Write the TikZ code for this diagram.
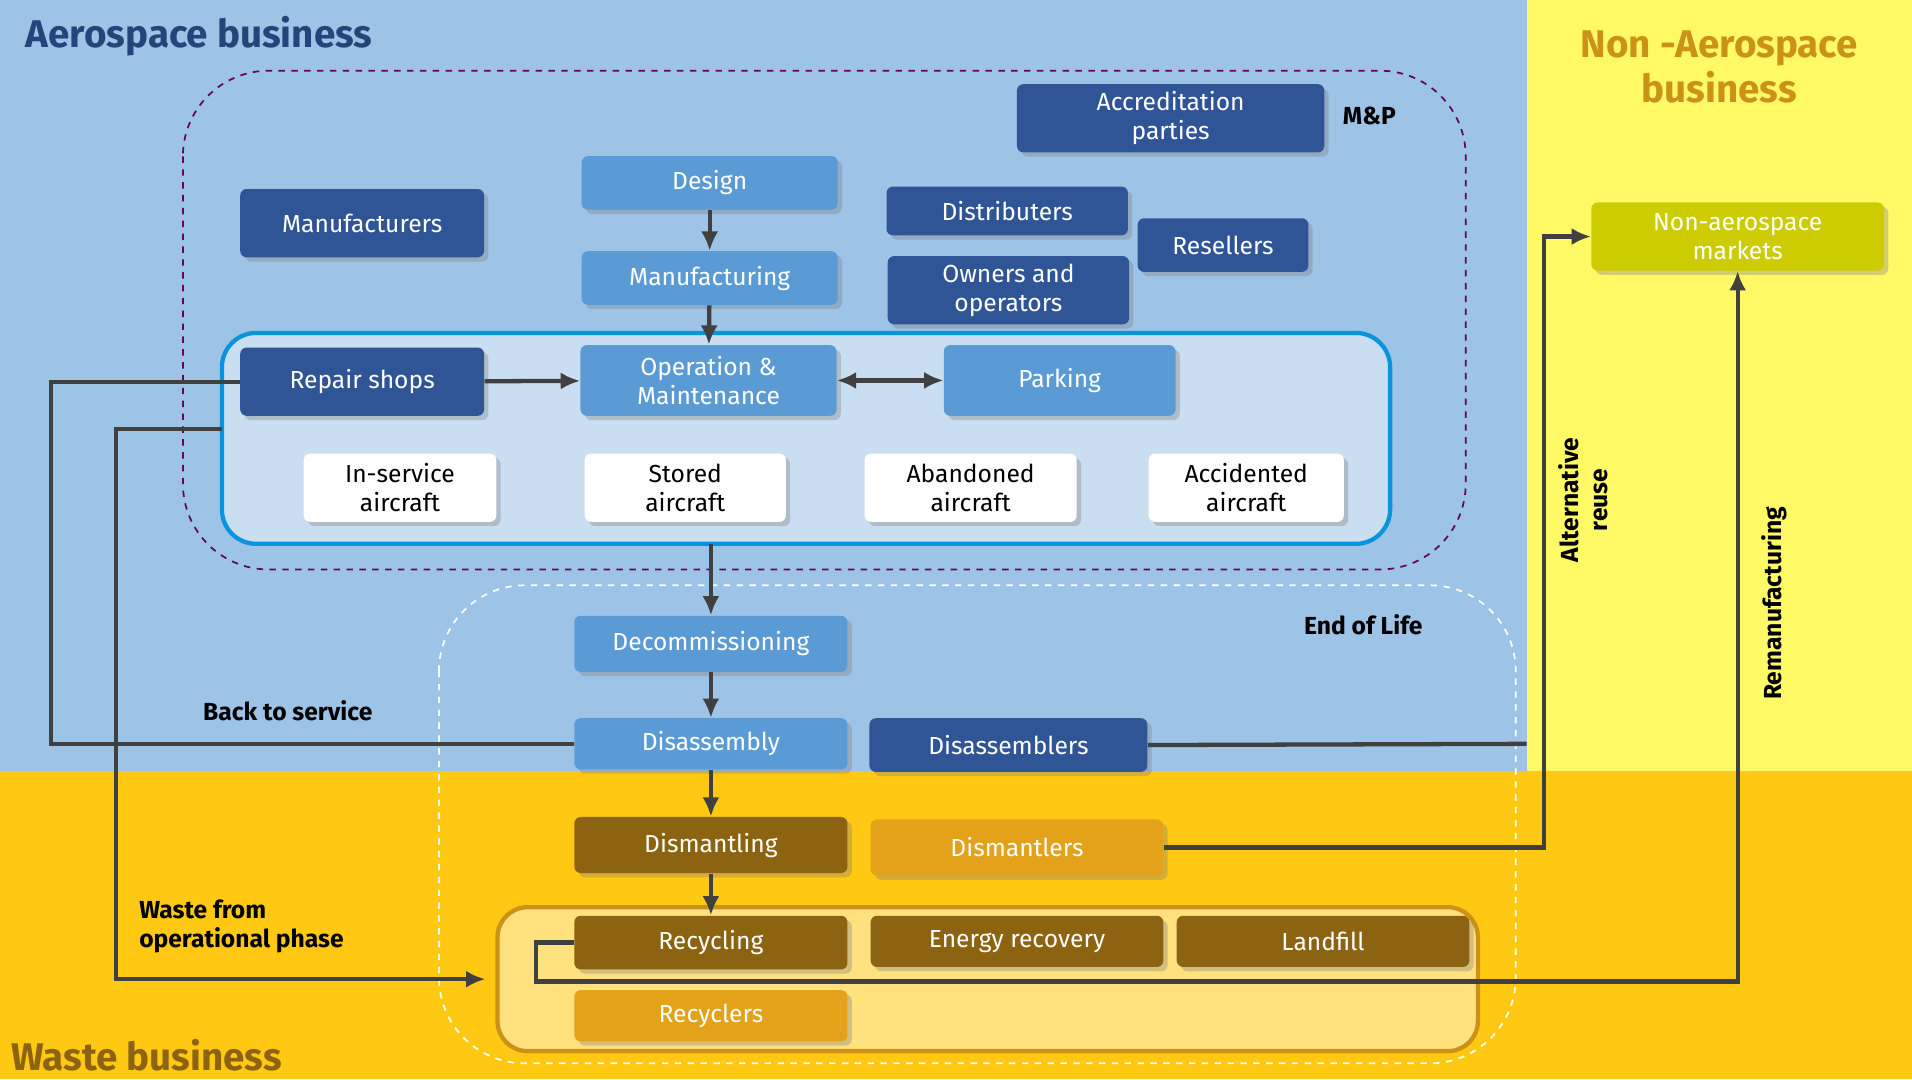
\documentclass[tikz,border=0pt]{standalone}
\usepackage{fontspec}
\setmainfont{Fira Sans}
\usepackage{tikz}
\usetikzlibrary{shadows,arrows.meta}
\definecolor{skyback}{HTML}{9DC3E6}
\definecolor{yellback}{HTML}{FFF966}
\definecolor{wasteback}{HTML}{FFC812}
\definecolor{darkblue}{HTML}{2F5597}
\definecolor{midblue}{HTML}{5B9BD5}
\definecolor{brownbox}{HTML}{8C6310}
\definecolor{orangebox}{HTML}{E3A21A}
\definecolor{greenbox}{HTML}{CCCC00}
\definecolor{linegray}{HTML}{404040}
\newcommand{\boxfont}{\fontsize{11.5}{13.5}\selectfont}
\tikzset{
    common/.style={rounded corners=3pt, text=white, align=center, font=\boxfont,
        drop shadow={opacity=0.35, shadow xshift=2pt, shadow yshift=-2pt}},
    dark/.style={common, fill=darkblue},
    mid/.style={common, fill=midblue},
    plane/.style={common, fill=white, text=black},
    brown/.style={common, fill=brownbox},
    orange/.style={common, fill=orangebox},
    market/.style={common, fill=greenbox},
    flow/.style={draw=linegray, line width=2pt, -{Latex[length=9pt,width=8pt]}},
    plain/.style={draw=linegray, line width=2pt},
    tag/.style={font=\bfseries\boxfont, align=left},
    title/.style={font=\bfseries\fontsize{18}{21}\selectfont, align=center}
}
\begin{document}
\begin{tikzpicture}[x=0.02cm, y=-0.02cm]
    % backgrounds
    \fill[skyback] (0,0) rectangle (1252,632);
    \fill[yellback] (1252,0) rectangle (1568,632);
    \fill[wasteback] (0,632) rectangle (1568,885);
    \useasboundingbox (0,0) rectangle (1568,885);

    \node[title, anchor=west, text=darkblue!80!black] at (15,30) {Aerospace business};
    \node[title, text=orangebox!90!black] at (1410,55) {Non -Aerospace\\business};
    \node[title, anchor=west, text=brownbox] at (3,865) {Waste business};

    % frames
    \draw[violet!80!black, dashed, thick, rounded corners=40pt] (150,58) rectangle (1202,467);
    \draw[white, dashed, thick, rounded corners=40pt] (360,480) rectangle (1243,872);
    \draw[cyan!80!blue, line width=2pt, fill=skyback!55!white, rounded corners=16pt] (182,273) rectangle (1140,446);
    \draw[orangebox!90!black, line width=2pt, fill=wasteback!55!white, rounded corners=14pt] (408,744) rectangle (1212,862);

    % aerospace nodes
    \node[dark, minimum width=252*0.02cm, minimum height=56*0.02cm] (accred) at (960,97) {Accreditation\\parties};
    \node[tag] (mp) at (1123,95) {M\&P};
    \node[mid, minimum width=210*0.02cm, minimum height=44*0.02cm] (design) at (582,150) {Design};
    \node[dark, minimum width=200*0.02cm, minimum height=56*0.02cm] (makers) at (297,183) {Manufacturers};
    \node[dark, minimum width=198*0.02cm, minimum height=40*0.02cm] (distrib) at (826,173) {Distributers};
    \node[dark, minimum width=140*0.02cm, minimum height=44*0.02cm] (resell) at (1003,201) {Resellers};
    \node[mid, minimum width=210*0.02cm, minimum height=44*0.02cm] (manuf) at (582,228) {Manufacturing};
    \node[dark, minimum width=198*0.02cm, minimum height=56*0.02cm] (owners) at (827,238) {Owners and\\operators};
    \node[dark, minimum width=200*0.02cm, minimum height=56*0.02cm] (repair) at (297,313) {Repair shops};
    \node[mid, minimum width=210*0.02cm, minimum height=58*0.02cm] (opm) at (581,312) {Operation \&\\Maintenance};
    \node[mid, minimum width=190*0.02cm, minimum height=58*0.02cm] (parking) at (869,312) {Parking};
    \node[plane, minimum width=158*0.02cm, minimum height=56*0.02cm] (inservice) at (328,400) {In-service\\aircraft};
    \node[plane, minimum width=165*0.02cm, minimum height=56*0.02cm] (stored) at (562,400) {Stored\\aircraft};
    \node[plane, minimum width=174*0.02cm, minimum height=56*0.02cm] (abandon) at (796,400) {Abandoned\\aircraft};
    \node[plane, minimum width=160*0.02cm, minimum height=56*0.02cm] (accident) at (1022,400) {Accidented\\aircraft};
    \coordinate (fleetbot) at (583,446);
    \coordinate (fleetwest) at (182,352);

    % end of life nodes
    \node[tag] (eol) at (1118,512) {End of Life};
    \node[mid, minimum width=224*0.02cm, minimum height=46*0.02cm] (decom) at (583,528) {Decommissioning};
    \node[mid, minimum width=224*0.02cm, minimum height=42*0.02cm] (disasm) at (583,610) {Disassembly};
    \node[dark, minimum width=228*0.02cm, minimum height=44*0.02cm] (disasmers) at (827,611) {Disassemblers};
    \node[brown, minimum width=224*0.02cm, minimum height=46*0.02cm] (dismant) at (583,693) {Dismantling};
    \node[orange, minimum width=240*0.02cm, minimum height=46*0.02cm] (dismanters) at (834,695) {Dismantlers};
    \node[brown, minimum width=224*0.02cm, minimum height=44*0.02cm] (recyc) at (583,773) {Recycling};
    \node[brown, minimum width=240*0.02cm, minimum height=42*0.02cm] (energy) at (834,772) {Energy recovery};
    \node[brown, minimum width=240*0.02cm, minimum height=42*0.02cm] (landfill) at (1085,772) {Landfill};
    \node[orange, minimum width=224*0.02cm, minimum height=42*0.02cm] (recyclers) at (583,833) {Recyclers};
    \node[market, minimum width=240*0.02cm, minimum height=56*0.02cm] (nonaero) at (1425,194) {Non-aerospace\\markets};

    % labels
    \node[tag] (backlbl) at (236,583) {Back to service};
    \node[tag, anchor=west] (wastelbl) at (108,760) {Waste from\\operational phase};
    \node[tag, rotate=90, align=center] (altlbl) at (1298,410) {Alternative\\reuse};
    \node[tag, rotate=90] (remanlbl) at (1455,495) {Remanufacturing};
    \coordinate (wasteend) at (398,803);
    \coordinate (disend) at (1252,610);

    % connectors
    \draw[flow] (design) -- (manuf);
    \draw[flow] (manuf) -- (opm);
    \draw[flow] (repair) -- (opm);
    \draw[flow, {Latex[length=9pt,width=8pt]}-{Latex[length=9pt,width=8pt]}] (opm) -- (parking);
    \draw[flow] (fleetbot) -- (decom);
    \draw[flow] (decom) -- (disasm);
    \draw[flow] (disasm) -- (dismant);
    \draw[flow] (dismant) -- (recyc);
    \draw[plain] (disasm.west) -- ++(-429,0) |- (repair.west);
    \draw[flow] (fleetwest) -- ++(-87,0) |- (wasteend);
    \draw[plain] (disasmers.east) -- (disend);
    \draw[flow] (dismanters.east) -| (1266,194) -- (nonaero.west);
    \draw[flow] (recyc.west) -- ++(-31,0) |- (1425,805) -- (nonaero.south);
\end{tikzpicture}
\end{document}
